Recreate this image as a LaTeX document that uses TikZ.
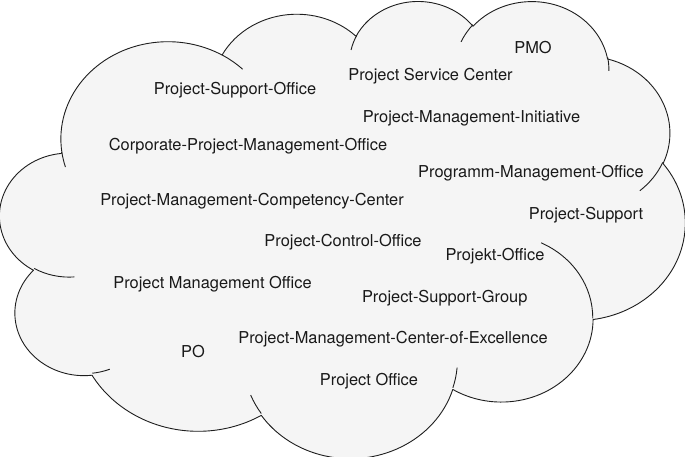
\documentclass[tikz,border=0pt]{standalone}
\usepackage{fontspec}
\setmainfont{TeX Gyre Heros}
\definecolor{cloudgray}{RGB}{245,245,245}
\definecolor{edgegray}{RGB}{30,30,30}
% arc of an ellipse given by OOXML-style visual angles (degrees)
\newcommand\ca[4]{arc[x radius=#1, y radius=#2, start angle={atan2((#1)*sin(#3),(#2)*cos(#3))}, delta angle={mod(atan2((#1)*sin((#3)+(#4)),(#2)*cos((#3)+(#4)))-atan2((#1)*sin(#3),(#2)*cos(#3))+720,360)}]}
\tikzset{
  cloudline/.style={draw=edgegray, line width=0.9pt},
  lbl/.style={inner sep=0pt, anchor=base, font=\fontsize{16.4}{19}\selectfont, text=black!90},
}
\begin{document}
\begin{tikzpicture}[x=1.58565pt, y=-1.05787pt]
\useasboundingbox (0pt,0pt) rectangle (685pt,-457pt);
\path[cloudline, fill=cloudgray, line join=round] (39.00,143.70)
  \ca{67.53}{91.90}{-190.48748}{123.78053}
  \ca{53.33}{72.67}{-144.10238}{89.94523}
  \ca{43.65}{59.45}{-145.80792}{99.72302}
  \ca{48.57}{65.95}{-130.98607}{117.24173}
  \ca{53.33}{72.73}{-78.70888}{109.02692}
  \ca{67.75}{92.20}{-46.26725}{130.269}
  \ca{57.85}{78.67}{0.62502}{114.03333}
  \ca{67.52}{92.15}{22.4516}{115.17255}
  \ca{77.20}{105.43}{66.24263}{75.71102}
  \ca{43.60}{59.18}{-274.94208}{146.73557}
  \ca{43.45}{59.45}{-246.8285}{152.51885}
  -- cycle;
\draw[cloudline] (46.93,261.77) \ca{43.45}{59.45}{86.742}{26.4295};
\draw[cloudline] (69.28,348.99) \ca{43.60}{59.18}{73.61047}{11.44747};
\draw[cloudline] (164.78,390.90) \ca{67.52}{92.15}{137.62415}{14.0811};
\draw[cloudline] (288.27,347.51) \ca{67.52}{92.15}{6.45327}{15.99835};
\draw[cloudline] (341.29,229.54) \ca{57.85}{78.67}{-70.29235}{70.91737};
\draw[cloudline] (417.98,153.54) \ca{53.33}{72.73}{30.31803}{27.7515};
\draw[cloudline] (383.24,54.26) \ca{48.57}{65.95}{-13.74433}{14.8589};
\draw[cloudline] (290.78,39.52) \ca{48.57}{65.95}{-149.18145}{18.19537};
\draw[cloudline] (221.41,47.20) \ca{43.65}{59.45}{-163.49427}{17.68635};
\draw[cloudline] (140.00,51.92) \ca{67.53}{91.90}{-66.70695}{12.31935};
\draw[cloudline] (41.27,157.89) \ca{67.53}{91.90}{157.65435}{11.85817};
% labels
\node[lbl] (t1) at (533pt,-54pt) {PMO};
\node[lbl] (t2) at (430.5pt,-81pt) {Project Service Center};
\node[lbl] (t3) at (235pt,-95pt) {Project-Support-Office};
\node[lbl] (t4) at (471.5pt,-123pt) {Project-Management-Initiative};
\node[lbl] (t5) at (248pt,-151pt) {Corporate-Project-Management-Office};
\node[lbl] (t6) at (531pt,-178pt) {Programm-Management-Office};
\node[lbl] (t7) at (252pt,-206pt) {Project-Management-Competency-Center};
\node[lbl] (t8) at (586pt,-219.5pt) {Project-Support};
\node[lbl] (t9) at (343pt,-246pt) {Project-Control-Office};
\node[lbl] (t10) at (495pt,-260pt) {Projekt-Office};
\node[lbl] (t11) at (212.5pt,-288.5pt) {Project Management Office};
\node[lbl] (t12) at (444.7pt,-302pt) {Project-Support-Group};
\node[lbl] (t13) at (393pt,-343pt) {Project-Management-Center-of-Excellence};
\node[lbl] (t14) at (193pt,-357pt) {PO};
\node[lbl] (t15) at (369pt,-385pt) {Project Office};
\end{tikzpicture}
\end{document}
